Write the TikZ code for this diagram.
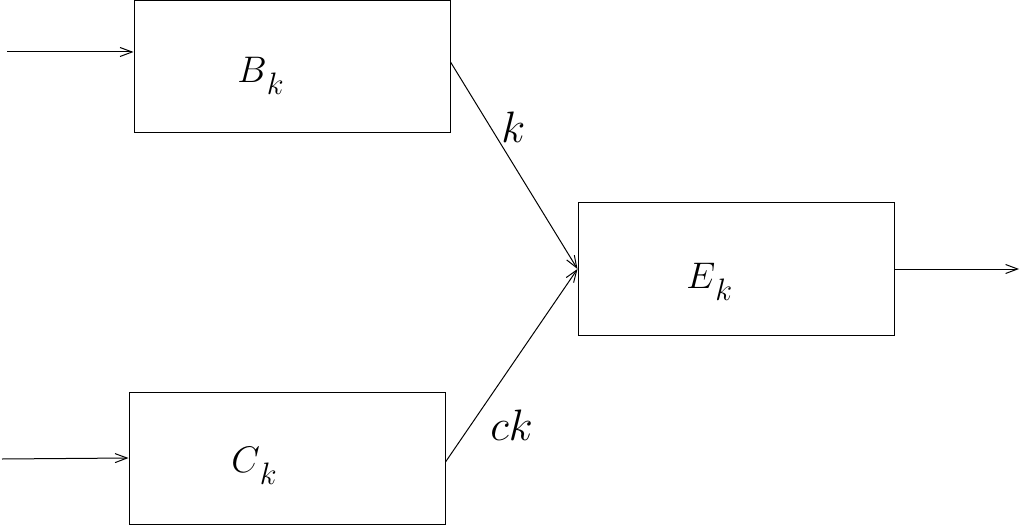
\RequirePackage{fix-cm}
\documentclass[tikz,border=0pt]{standalone}
\usetikzlibrary{arrows.meta}
\newcommand{\subk}{\raisebox{-6pt}{\fontsize{15.5}{18}\selectfont$k$}}
\begin{document}
\begin{tikzpicture}[x=0.5pt,y=-0.5pt,
  blockbox/.style={draw, line width=0.5pt, rectangle, minimum width=158pt, minimum height=66pt, inner sep=0pt},
  arr/.style={line width=0.5pt, -{Straight Barb[length=6pt,width=4.5pt,line width=0.5pt]}},
  boxlabel/.style={anchor=base west, inner sep=0pt, font=\fontsize{18.5}{22}\selectfont},
  edgelabel/.style={anchor=base west, inner sep=0pt, font=\fontsize{22}{26}\selectfont}]
\useasboundingbox (0,0) rectangle (1021,529);
\node[blockbox] (B) at (292,66.6) {};
\node[blockbox] (C) at (287,458) {};
\node[blockbox] (E) at (736,269) {};
\node[boxlabel] (Bl) at (237,83) {$B$\subk};
\node[boxlabel] (Cl) at (231,472) {$C$\subk};
\node[boxlabel] (El) at (686,288) {$E$\subk};
\coordinate (inB) at (7,52);
\coordinate (inC) at (2,459);
\coordinate (outE) at (1019,269);
\draw[arr] (inB) -- ([yshift=7.3pt]B.west);
\draw[arr] (inC) -- (C.west);
\draw[arr] (E.east) -- (outE);
\draw[arr] ([yshift=2.3pt]B.east) -- (E.west);
\draw[arr] ([yshift=-2pt]C.east) -- (E.west);
\node[edgelabel] (kl) at (501,143) {$k$};
\node[edgelabel] (ckl) at (490,440) {$ck$};
\end{tikzpicture}
\end{document}
